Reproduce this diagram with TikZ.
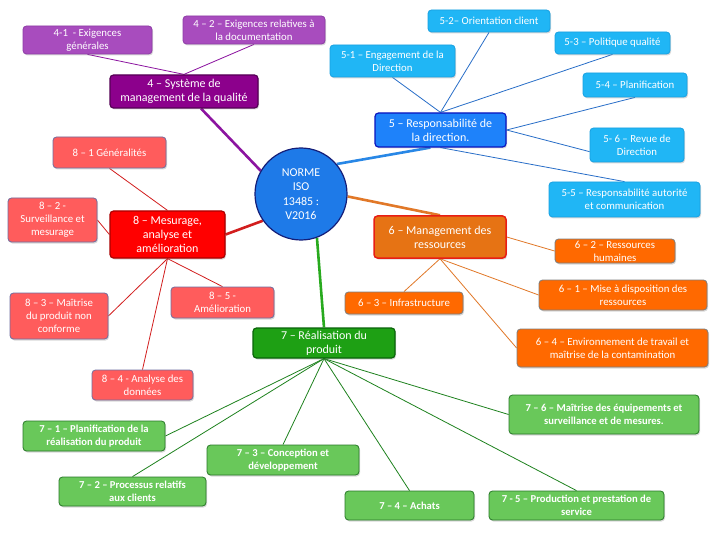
\documentclass[tikz,border=0pt]{standalone}
\usepackage{fontspec}
\setmainfont{Carlito}
\usetikzlibrary{shadows,backgrounds}
\definecolor{purSub}{RGB}{168,76,190}
\definecolor{purSubB}{RGB}{140,60,165}
\definecolor{purMain}{RGB}{140,0,140}
\definecolor{purMainB}{RGB}{85,0,85}
\definecolor{purLine}{RGB}{140,20,160}
\definecolor{circFill}{RGB}{30,122,232}
\definecolor{circB}{RGB}{20,30,120}
\definecolor{bluMain}{RGB}{30,130,250}
\definecolor{bluMainB}{RGB}{10,20,190}
\definecolor{bluSub}{RGB}{32,182,245}
\definecolor{bluSubB}{RGB}{25,160,225}
\definecolor{bluLine}{RGB}{40,110,200}
\definecolor{bluThick}{RGB}{40,135,230}
\definecolor{orMain}{RGB}{230,115,20}
\definecolor{orMainB}{RGB}{232,30,20}
\definecolor{orSub}{RGB}{255,105,0}
\definecolor{orSubB}{RGB}{125,125,125}
\definecolor{orLine}{RGB}{225,120,40}
\definecolor{rdMain}{RGB}{255,0,0}
\definecolor{rdMainB}{RGB}{170,0,0}
\definecolor{rdSub}{RGB}{255,92,92}
\definecolor{rdSubB}{RGB}{110,110,160}
\definecolor{rdLine}{RGB}{210,30,30}
\definecolor{grMain}{RGB}{30,160,20}
\definecolor{grMainB}{RGB}{10,100,10}
\definecolor{grSub}{RGB}{105,200,90}
\definecolor{grSubB}{RGB}{40,120,40}
\definecolor{grLine}{RGB}{30,130,30}
\definecolor{grThick}{RGB}{40,170,30}
\tikzset{
  boxbase/.style={rounded corners=3.5pt, align=center, inner sep=1pt, text=white,
    line width=0.8pt, drop shadow={opacity=0.3, shadow xshift=1pt, shadow yshift=-1.5pt}},
  subfont/.style={font=\fontsize{10.8}{12.8}\selectfont},
  mainfont/.style={font=\fontsize{12}{14}\selectfont},
  purS/.style={boxbase, subfont, fill=purSub, draw=purSubB},
  purM/.style={boxbase, mainfont, fill=purMain, draw=purMainB, line width=1.2pt},
  bluS/.style={boxbase, subfont, fill=bluSub, draw=bluSubB},
  bluM/.style={boxbase, mainfont, fill=bluMain, draw=bluMainB, line width=1.2pt},
  orS/.style={boxbase, subfont, fill=orSub, draw=orSubB},
  orM/.style={boxbase, mainfont, fill=orMain, draw=orMainB, line width=1.5pt},
  rdS/.style={boxbase, subfont, fill=rdSub, draw=rdSubB},
  rdM/.style={boxbase, mainfont, fill=rdMain, draw=rdMainB, line width=1.2pt},
  grS/.style={boxbase, font=\fontsize{10.6}{12.8}\selectfont\bfseries, fill=grSub, draw=grSubB},
  grM/.style={boxbase, mainfont, fill=grMain, draw=grMainB, line width=1.2pt},
  thinlink/.style={line width=0.8pt},
  thicklink/.style={line width=2.6pt},
}
\begin{document}
\begin{tikzpicture}[x=1pt,y=-1pt]
\useasboundingbox (0,0) rectangle (720,540);
% ---- nodes ----
\node[circle, fill=circFill, draw=circB, line width=1.2pt, minimum size=92pt, inner sep=0pt,
  text=white, align=center, font=\fontsize{12}{14.5}\selectfont] (circ) at (301,194)
  {NORME\\ISO\\13485 :\\V2016};
% purple
\node[purS, minimum width=129pt, minimum height=28pt] (n41) at (87.5,40) {4-1~ - Exigences\\générales};
\node[purS, minimum width=142pt, minimum height=28pt] (n42) at (254,30) {4 – 2 – Exigences relatives à\\la documentation};
\node[purM, minimum width=148pt, minimum height=33pt] (n4) at (184,91.5) {4 – Système de\\management de la qualité};
% blue
\node[bluM, minimum width=131pt, minimum height=34pt] (n5) at (440.5,130) {5 – Responsabilité de\\la direction.};
\node[bluS, minimum width=125pt, minimum height=32pt] (n51) at (392.5,61) {5-1 – Engagement de la\\Direction};
\node[bluS, minimum width=122pt, minimum height=22pt] (n52) at (489,21) {5-2– Orientation client};
\node[bluS, minimum width=115pt, minimum height=22pt] (n53) at (612.5,43) {5-3 – Politique qualité};
\node[bluS, minimum width=104pt, minimum height=24pt] (n54) at (635,85) {5-4 – Planification};
\node[bluS, minimum width=94pt, minimum height=34pt] (n56) at (637,145) {5- 6 – Revue de\\Direction};
\node[bluS, minimum width=151pt, minimum height=35pt] (n55) at (624.5,199.5) {5-5 – Responsabilité autorité\\et communication};
% orange
\node[orM, minimum width=132pt, minimum height=42pt] (n6) at (440,237) {6 – Management des\\ressources};
\node[orS, minimum width=120pt, minimum height=24pt] (n62) at (615,251) {6 – 2 – Ressources\\humaines};
\node[orS, minimum width=118pt, minimum height=22pt] (n63) at (404,303) {6 – 3 – Infrastructure};
\node[orS, minimum width=168pt, minimum height=30pt] (n61) at (623,295) {6 – 1 – Mise à disposition des\\ressources};
\node[orS, minimum width=191pt, minimum height=38pt] (n64) at (612.5,348) {6 – 4 – Environnement de travail et\\maîtrise de la contamination};
% red
\node[rdM, minimum width=115pt, minimum height=47pt] (n8) at (167.5,234.5) {8 – Mesurage,\\analyse et\\amélioration};
\node[rdS, minimum width=113pt, minimum height=31pt] (n81) at (109.5,152.5) {8 – 1 Généralités};
\node[rdS, minimum width=89pt, minimum height=44pt] (n82) at (52.5,220) {8 – 2 -\\Surveillance et\\mesurage};
\node[rdS, minimum width=98pt, minimum height=46pt] (n83) at (59,316) {8 – 3 – Maîtrise\\du produit non\\conforme};
\node[rdS, minimum width=103pt, minimum height=31pt] (n85) at (222.5,302.5) {8 – 5 -\\Amélioration};
\node[rdS, minimum width=101pt, minimum height=30pt] (n84) at (142.5,385) {8 – 4 - Analyse des\\données};
% green
\node[grM, minimum width=142pt, minimum height=30pt] (n7) at (324,343) {7 – Réalisation du\\produit};
\node[grS, minimum width=142pt, minimum height=30pt] (n71) at (94,436) {7 – 1 – Planification de la\\réalisation du produit};
\node[grS, minimum width=147pt, minimum height=29pt] (n72) at (132.5,491.5) {7 – 2 – Processus relatifs\\aux clients};
\node[grS, minimum width=152pt, minimum height=30pt] (n73) at (283,460) {7 – 3 – Conception et\\développement};
\node[grS, minimum width=129pt, minimum height=29pt] (n74) at (409.5,505.5) {7 – 4 – Achats};
\node[grS, minimum width=175pt, minimum height=29pt] (n75) at (576.5,505.5) {7 - 5 – Production et prestation de\\service};
\node[grS, minimum width=190pt, minimum height=39pt] (n76) at (604,414.5) {7 – 6 – Maîtrise des équipements et\\surveillance et de mesures.};
% ---- connectors (behind nodes) ----
\begin{scope}[on background layer]
\fill[white] (0,0) rectangle (720,540);
\draw[thinlink, purLine] (n41.south) -- (n4.north);
\draw[thinlink, purLine] (n42.south) -- (n4.north);
\draw[thicklink, purLine] (n4.-45) -- (circ.150);
\draw[thinlink, bluLine] (n51.south) -- (n5.north);
\draw[thinlink, bluLine] (n52.south) -- (n5.north);
\draw[thinlink, bluLine] (n53.south) -- (n5.north);
\draw[thinlink, bluLine] (n54.south) -- (n5.east);
\draw[thinlink, bluLine] (n56.188) -- (n5.east);
\draw[thinlink, bluLine] (n55.north) -- (n5.south);
\draw[thicklink, bluThick] (circ.40) -- (n5.-120);
\draw[thicklink, orLine] (circ.-3) -- (n6.north);
\draw[thinlink, orLine] (n6.east) -- (n62.west);
\draw[thinlink, orLine] (n6.south) -- (n63.north);
\draw[thinlink, orLine] (n6.south) -- (n61.west);
\draw[thinlink, orLine] (n6.south) -- (n64.west);
\draw[thicklink, rdLine] (circ.215) -- (n8.east);
\draw[thinlink, rdLine] (n81.south) -- (n8.north);
\draw[thinlink, rdLine] (n82.east) -- (n8.west);
\draw[thinlink, rdLine] (n8.south) -- (n83.east);
\draw[thinlink, rdLine] (n8.south) -- (n84.north);
\draw[thinlink, rdLine] (n8.south) -- (n85.north);
\draw[thicklink, grThick] (circ.-70) -- (n7.north);
\draw[thinlink, grLine] (n7.south) -- (n71.east);
\draw[thinlink, grLine] (n7.south) -- (n72.north);
\draw[thinlink, grLine] (n7.south) -- (n73.north);
\draw[thinlink, grLine] (n7.south) -- (n74.north);
\draw[thinlink, grLine] (n7.south) -- (n75.north);
\draw[thinlink, grLine] (n7.south) -- (n76.west);
\end{scope}
\end{tikzpicture}
\end{document}
